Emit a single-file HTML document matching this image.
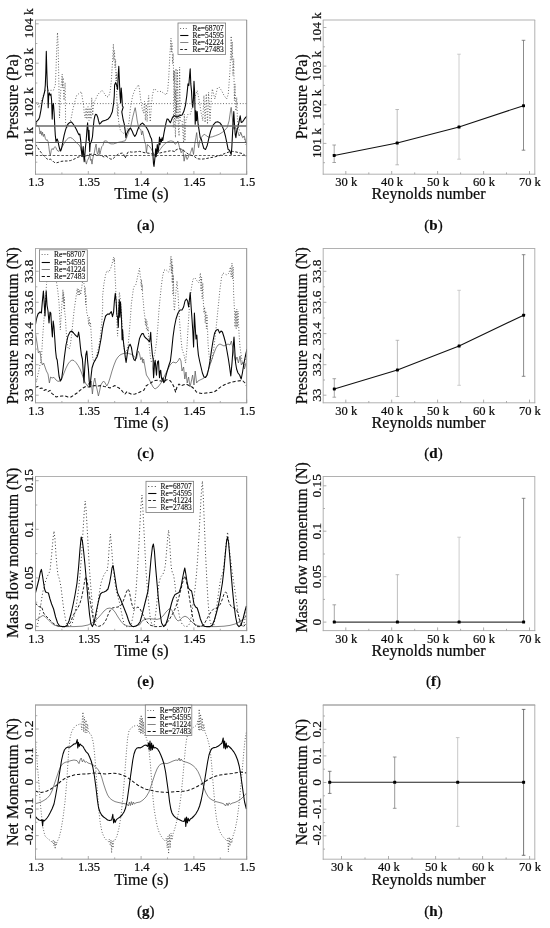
<!DOCTYPE html>
<html lang="en"><head><meta charset="utf-8"><title>Figure</title>
<style>html,body{margin:0;padding:0;background:#fff}svg{display:block}text{font-family:"Liberation Serif","Times New Roman",serif;fill:#0c0c0c;stroke:#0c0c0c;stroke-width:0.22px}.lg{stroke-width:0.1px}</style>
</head><body>
<svg width="550" height="928" viewBox="0 0 550 928">
<rect width="550" height="928" fill="#fff"/>
<defs>
<clipPath id="cl0"><rect x="35.5" y="20" width="211.2" height="154.2"/></clipPath>
<clipPath id="cl1"><rect x="35.5" y="248.5" width="211.2" height="154.3"/></clipPath>
<clipPath id="cl2"><rect x="35.5" y="476.5" width="211.2" height="154.1"/></clipPath>
<clipPath id="cl3"><rect x="35.5" y="705" width="211.2" height="154.2"/></clipPath>
</defs>
<g clip-path="url(#cl0)">
<path d="M35.5 102.8 37.1 102.8 39 107.8 41.5 100.3 45.3 90.3 50.3 90.3 53.4 90.3 55.3 85.2 56 70.2 56.6 51.4 57.5 32.5 58.1 45.1 58.5 63.9 59.1 95.3 59.5 117.9 60.3 97.8 61.4 82.7 62.2 74 62.6 87.8 63.1 77.7 63.6 95.3 64.1 100.3 64.6 90.3 65.1 82.7 65.4 100.3 65.6 124.1 66.9 127.9 69.1 124.1 71 119.1 72.9 109.1 74.8 101.6 76.7 95.3 79.2 93.4 81.4 91.5 82.3 97.8 83.6 105.3 84.2 112.8 85.2 117.9 86.1 107.8 86.9 119.1 88 106.6 89 120.4 90 107.8 91 119.1 91.7 97.8 92.7 115.4 93.7 101.6 95.5 100.3 96.7 96.5 99.2 92.8 102.4 90.3 102.2 90.5 104.4 93.5 106.5 97.1 108.7 96.4 110.2 91.3 111.3 81.1 112.4 63.6 113.4 44 113.8 60.7 114.5 50.5 115 68 115.6 59.3 116 81.1 116.4 72.4 116.9 101.5 117.5 116 118 104.4 118.6 121.8 120.4 130.5 123.3 133.5 126.9 130.5 129.1 121.8 130.5 107.3 132.7 95.6 134.9 89.8 137.1 86.9 138.5 84.7 139.6 89.8 140.7 100 142.2 108.7 143.6 113.1 144.5 101.5 145.4 120.4 146.3 104.4 147.1 121.8 148 101.5 148.7 95.6 149.5 113.1 150.3 121.8 151.2 107.3 152.4 95.6 153.8 89.1 156 89.8 158.2 92 161.1 91.3 164 93.5 166.2 94.9 167.6 91.3 168.7 78.2 169.8 56.4 171 38.2 171.4 52 172 43.3 172.6 63.6 173.2 53.5 173.7 81.1 174.3 70.9 174.9 101.5 175.5 89.8 176.1 113.1 176.7 101.5 173.3 127.6 174 70.4 174.9 124.2 175.5 137.6 176 68.7 176.9 120.8 177.5 70.4 178.4 127.6 179.1 136 179.6 67.1 180.4 120.8 182.1 120.8 183.6 142.7 184.3 114.1 184.9 141 185.8 120.8 188 114.1 190.5 114.1 193.8 100.7 197.2 90.6 198.9 99 201.4 114.1 202.8 120.8 203.9 95.6 205.1 122.5 206.3 93.9 207.5 124.2 208.6 92.3 210 120.8 211.2 100.7 212.3 88.9 214.9 99 217.4 88.1 219.1 87.2 221.6 90.6 224.1 95.6 226.6 99 228.3 93.9 230 70.4 231.2 36 231.7 60.3 232.3 41.8 233 75.5 233.7 58.7 234.4 100.7 235 83.9 235.9 110.8 236.7 97.3 237.5 120.8 238.4 127.6 240.9 134.3 244.3 137.6 245.9 144.4 247.6 147.7" fill="none" stroke="#4a4a4a" stroke-width="0.9" stroke-dasharray="0.9 1.9" stroke-linejoin="round"/>
<path d="M35.3 125.9 36.5 125.2 38.4 125.9 39.3 127.8 40 134 40.9 130.9 41.8 135.3 42.5 132.1 43.4 136.5 44.3 134 45.3 138.4 46.3 140.3 47.2 139.7 48.1 141.6 48.8 146.6 49.6 152.8 50.3 155.4 51.3 150.3 52.2 148.5 53.1 149.7 54.1 147.8 55.1 146.6 56 147.8 56.8 149.7 57.8 151 59.1 151.3 60.3 149.7 61.6 147.8 63.1 145.3 64.7 142.2 66.6 139.7 68.5 138 70.4 137.5 72.3 138.4 74.2 140.3 76 142.2 77.9 144.1 79.4 145.3 80.7 147.8 81.7 152.8 82.7 155.4 83.6 153.5 84.4 156.6 85.4 160.4 86.4 164.1 87.3 160.4 88.2 159.1 89.2 156.6 89.8 153.5 90.5 160.4 91.2 159.1 92 164.1 92.7 159.1 93.5 155.4 94.2 153.5 95.2 147.8 96.1 144.1 96.7 150.3 97.5 154.1 98.2 152.8 99 147.8 99.9 154.1 100.8 150.3 101.8 146.6 103 145.3 104.1 141.2 106.1 140.8 108.2 142.5 110.9 143.9 113.6 143.9 117.7 142.5 121.8 141.6 125.2 140.8 126.6 137.7 128.6 132.3 130.7 126.8 132.7 117.3 134.1 111.8 135.2 107.7 136.2 113.2 137.1 120 138.2 125.5 139.6 128.9 140.9 129.6 141.6 135 142.6 130.9 143.7 136.4 144.7 141.8 145.7 144.6 146.4 152.8 147.5 144.6 149.1 145.9 151.2 148.7 153.2 152.8 154.6 155.5 155.9 152.8 158.7 151.4 160.7 148.7 162.8 145.9 165.5 143.2 168.2 141.6 170.9 140.8 173.7 141.6 174 142.7 175.4 144.4 177.9 141 179.6 147.7 181.2 152.8 182.9 149.4 184.1 161.2 185.4 154.5 187.1 159.5 188.8 156.1 190.5 152.8 192.2 147.7 193.5 154.5 194.7 144.4 195.9 137.6 196.7 132.6 197.5 141 198.6 147.7 199.7 141 201.4 137.6 203.1 135.1 204.8 134.3 206.5 136 209 137.3 212.3 136.8 215.7 135.6 219.1 134.3 222.4 132.3 224.9 130.1 227.1 127.6 229.1 120.8 230.5 110.8 231.2 107.4 232 114.1 232.8 122.5 233.8 129.2 235.9 127.6 237.5 130.9 239.2 136 240.9 132.6 242.6 137.6 244.3 136 245.9 142.7 247.6 144.4" fill="none" stroke="#5a5a5a" stroke-width="0.75" stroke-linejoin="round"/>
<path d="M35.3 144.1 36.5 145.9 37.8 147.8 39 149.7 40.9 152.2 42.8 154.7 44.7 156.6 46.5 158.5 48.4 159.7 50.3 159.1 52.2 160.4 54.1 162.3 56 162.9 58.5 162.3 61 161.4 64.1 161 67.2 161 70.4 160.6 72.9 159.7 75.4 158.5 77.9 157.2 80.4 156.4 82.3 156 84.2 156.6 86.7 155.6 89.2 154.7 91.7 154.1 94.2 154.4 96.7 154.7 99.2 155.1 101.8 155.6 103 156.4 104.1 157.1 106.1 156.2 108.2 157.5 110.2 158.9 112.3 159.3 114.3 157.5 116.4 155.5 118.4 154.1 120.5 153.4 122.5 153 123.9 154.8 125.2 158.2 126.6 154.8 128 152.1 129.3 151.7 131.4 152.1 134.1 152.1 136.8 151.7 139.6 151.4 142.3 152.1 145 152.8 147.1 153 149.8 153.4 152.5 154.1 155.3 154.1 158 153.4 160.7 152.8 163.4 152.1 166.2 151.7 168.9 151.1 170.9 150.7 173 151.1 175 151.7 175.4 150.3 178.7 148.6 182.1 149.4 188.8 154.5 193.8 156.1 197.2 158.7 201.4 159.2 205.6 158.7 209.8 157.8 214 157 218.2 156.1 222.4 154.5 225.8 153.1 229.1 151.9 232.5 151.4 235.9 151.9 239.2 152.8 242.6 153.6 245.9 156.1 247.6 157" fill="none" stroke="#1a1a1a" stroke-width="0.95" stroke-dasharray="2.6 1.7" stroke-linejoin="round"/>
<path d="M35.3 126.6 36.5 121.6 38.4 119.7 39.6 117.2 40.9 110.3 42.2 101.6 43.4 96.5 44.7 91.5 45.3 85.2 45.8 72.7 46.3 51.4 46.8 70.2 47.3 85.2 47.8 90.3 48.2 107.8 48.7 95.3 49.3 92.8 50.1 95.3 50.9 94 51.6 100.3 52.2 119.1 52.8 105.3 53.4 103.4 54.1 112.8 54.7 124.1 54.7 125.2 55.3 135.3 56 141.6 56.6 140.3 57.2 139 58.1 141.6 58.8 145.3 59.7 149.1 60.6 151 61.4 149.1 62.2 145.3 63.1 140.3 64.1 135.3 65.4 130.3 66.9 125.9 68.5 123.4 70.4 122.1 71.6 122.1 73.1 124 74.8 126.5 76.4 129.6 77.9 132.8 78.9 134.7 79.8 134 80.7 140.3 81.4 150.3 82.1 156.6 82.7 150.3 83.2 146.6 83.7 155.4 84.2 161.6 84.8 155.4 85.4 147.8 86.2 140.3 86.9 130.3 87.6 122.7 88.1 130.3 88.6 140.3 89 130.3 89.3 137.8 89.7 151.6 90.2 144.1 91 142.2 91.7 140.3 92.5 136.5 93.2 127.8 94 120.2 94.9 115.8 95.7 114.2 96.7 114.8 97.7 117.1 98.6 120.9 99.5 124 100.5 123.4 101.8 121.7 103 120.9 104.1 120.7 106.1 120 108.2 118.9 110.2 116.6 112.3 111.8 113.6 103.6 114.3 95.5 114.6 85 115.6 82.6 116.6 85 117.6 89.4 118.2 75 118.8 66.4 119.4 81 120 95 120.6 103 121.2 88 121.8 95 122.4 106 123.2 107 121.8 111.8 123.2 120 124.3 124.1 125.2 130.9 125.9 137.7 126.6 133.7 128 130.9 129.3 128.9 130.7 128.2 132.1 130.9 133.4 134.3 134.8 136.4 136.2 134.3 137.5 130.2 138.9 126.8 140.9 124.1 142.6 123 144.3 124.8 146.4 127.5 148 130.2 149.4 133.7 150.5 137.1 151.6 139.1 152.3 144.6 152.9 154.1 153.5 163.7 154 166.4 154.6 160.9 155.3 154.1 155.7 148.7 156.2 156.8 156.8 150 157.3 144.6 158 152.8 158.7 147.3 159.5 137.1 160 144.6 160.7 139.1 161.4 141.8 162.1 137.7 162.8 140.5 163.4 136.4 164.1 132.3 165.2 126.8 166.2 122.1 167.1 118.9 168.2 119.3 169.3 121.1 170.3 122.7 171.2 120.7 172.3 118 173.7 115.9 174.5 115.8 177 117.1 179.6 115.8 182.1 115 183.8 111.6 185.4 105.7 186.8 95.6 188 83.9 188.8 85.5 189.6 75.5 190.2 68.7 190.8 83.9 191.5 90.6 192.2 104 192.8 107.4 193.5 97.3 194 81.3 194.7 93.9 195.2 124.2 195.9 110.8 196.5 120.8 197.2 111.6 198.1 124.2 198.9 129.2 200.2 137.6 201.4 139.3 202.6 144.4 203.9 148.6 205.6 149.4 207.3 145.2 209 137.6 210.7 130.9 213.2 125 215.7 122.2 217.7 121.7 219.9 122.9 222.1 125.9 223.8 130.1 225.4 136 226.8 142.7 228.1 149.4 229.5 150.3 230.5 152.8 231.2 154.5 231.8 147.7 232.5 134.3 233.3 119.2 233.8 111.6 234.5 124.2 235.2 134.3 235.9 137.6 236.7 130.9 237.9 127.6 239.2 120.8 240.2 115.8 241.2 122.5 242.6 121.7 244.3 119.2 245.9 117.1 247.6 115.8" fill="none" stroke="#050505" stroke-width="1.08" stroke-linejoin="round"/>
</g>
<path d="M35.5 103.6 246.7 103.6" fill="none" stroke="#4a4a4a" stroke-width="0.9" stroke-dasharray="0.9 1.9" stroke-linejoin="round"/>
<path d="M35.5 126 246.7 126" fill="none" stroke="#6a6a6a" stroke-width="1.5" stroke-linejoin="round"/>
<path d="M35.5 142.5 246.7 142.5" fill="none" stroke="#4a4a4a" stroke-width="0.9" stroke-linejoin="round"/>
<path d="M35.5 155.5 246.7 155.5" fill="none" stroke="#333" stroke-width="0.8" stroke-dasharray="2.6 1.7" stroke-linejoin="round"/>
<path d="M35 20H247.1" stroke="#a8a8a8" stroke-width="0.9" fill="none"/>
<path d="M246.7 20V174.6" stroke="#808080" stroke-width="0.9" fill="none"/>
<path d="M35 174.2H247.1" stroke="#909090" stroke-width="0.9" fill="none"/>
<path d="M35.5 20V174.6" stroke="#9c9c9c" stroke-width="0.9" fill="none"/>
<path d="M88.3 174.2v-3.2M141.1 174.2v-3.2M193.9 174.2v-3.2M35.5 174.2v-3.2M246.7 174.2v-3.2M61.9 174.2v-1.8M114.7 174.2v-1.8M167.5 174.2v-1.8M220.3 174.2v-1.8" stroke="#999" stroke-width="0.8" fill="none"/>
<text transform="translate(36.2 185.8) scale(0.945 1)" font-size="13.3" text-anchor="middle">1.3</text>
<text transform="translate(89 185.8) scale(0.945 1)" font-size="13.3" text-anchor="middle">1.35</text>
<text transform="translate(141.8 185.8) scale(0.945 1)" font-size="13.3" text-anchor="middle">1.4</text>
<text transform="translate(194.6 185.8) scale(0.945 1)" font-size="13.3" text-anchor="middle">1.45</text>
<text transform="translate(247.4 185.8) scale(0.945 1)" font-size="13.3" text-anchor="middle">1.5</text>
<text x="141.5" y="199" font-size="16.1" text-anchor="middle">Time (s)</text>
<path d="M35.5 23.8h3.2M35.5 63.2h3.2M35.5 102.8h3.2M35.5 142.4h3.2M35.5 43.5h1.8M35.5 83h1.8M35.5 122.6h1.8M35.5 162.2h1.8" stroke="#999" stroke-width="0.8" fill="none"/>
<text transform="translate(32.9 23.2) scale(0.945 1) rotate(-90)" font-size="13.3" text-anchor="middle">104 k</text>
<text transform="translate(32.9 62.8) scale(0.945 1) rotate(-90)" font-size="13.3" text-anchor="middle">103 k</text>
<text transform="translate(32.9 102.4) scale(0.945 1) rotate(-90)" font-size="13.3" text-anchor="middle">102 k</text>
<text transform="translate(32.9 142.1) scale(0.945 1) rotate(-90)" font-size="13.3" text-anchor="middle">101 k</text>
<text transform="translate(17.5 96.5) rotate(-90)" font-size="16.0" text-anchor="middle">Pressure (Pa)</text>
<rect x="178" y="23" width="47.6" height="31.4" fill="#fff" stroke="#7a7a7a" stroke-width="0.8"/>
<path d="M180.2 28.5 188.4 28.5" fill="none" stroke="#4a4a4a" stroke-width="0.9" stroke-dasharray="0.9 1.9" stroke-linejoin="round"/>
<text x="192.5" y="30.5" font-size="7.5" class="lg">Re=68707</text>
<path d="M180.2 35.5 188.4 35.5" fill="none" stroke="#050505" stroke-width="1.08" stroke-linejoin="round"/>
<text x="192.5" y="37.7" font-size="7.5" class="lg">Re=54595</text>
<path d="M180.2 42.5 188.4 42.5" fill="none" stroke="#5a5a5a" stroke-width="0.75" stroke-linejoin="round"/>
<text x="192.5" y="44.9" font-size="7.5" class="lg">Re=42224</text>
<path d="M180.2 49.5 188.4 49.5" fill="none" stroke="#1a1a1a" stroke-width="0.95" stroke-dasharray="2.6 1.7" stroke-linejoin="round"/>
<text x="192.5" y="52.1" font-size="7.5" class="lg">Re=27483</text>
<text x="145.7" y="229.8" font-size="15" text-anchor="middle" fill="#111">(<tspan font-weight="bold">a</tspan>)</text>
<path d="M322.8 20H535.2" stroke="#a8a8a8" stroke-width="0.9" fill="none"/>
<path d="M534.8 20V174.6" stroke="#a8a8a8" stroke-width="0.9" fill="none"/>
<path d="M322.8 174.2H535.2" stroke="#a8a8a8" stroke-width="0.9" fill="none"/>
<path d="M323.2 20V174.6" stroke="#a8a8a8" stroke-width="0.9" fill="none"/>
<path d="M345.8 174.2v-3.2M391.7 174.2v-3.2M437.6 174.2v-3.2M483.6 174.2v-3.2M529.5 174.2v-3.2M368.8 174.2v-1.8M414.7 174.2v-1.8M460.6 174.2v-1.8M506.5 174.2v-1.8" stroke="#999" stroke-width="0.8" fill="none"/>
<text transform="translate(346.2 185.8) scale(0.945 1)" font-size="13.3" text-anchor="middle">30 k</text>
<text transform="translate(392.1 185.8) scale(0.945 1)" font-size="13.3" text-anchor="middle">40 k</text>
<text transform="translate(438 185.8) scale(0.945 1)" font-size="13.3" text-anchor="middle">50 k</text>
<text transform="translate(484 185.8) scale(0.945 1)" font-size="13.3" text-anchor="middle">60 k</text>
<text transform="translate(529.9 185.8) scale(0.945 1)" font-size="13.3" text-anchor="middle">70 k</text>
<text x="428.6" y="199" font-size="16.1" text-anchor="middle">Reynolds number</text>
<path d="M323.2 27.5h3.2M323.2 66.1h3.2M323.2 104.8h3.2M323.2 143.4h3.2M323.2 46.8h1.8M323.2 85.4h1.8M323.2 124.1h1.8M323.2 162.7h1.8" stroke="#999" stroke-width="0.8" fill="none"/>
<text transform="translate(320.6 27.2) scale(0.945 1) rotate(-90)" font-size="13.3" text-anchor="middle">104 k</text>
<text transform="translate(320.6 65.8) scale(0.945 1) rotate(-90)" font-size="13.3" text-anchor="middle">103 k</text>
<text transform="translate(320.6 104.5) scale(0.945 1) rotate(-90)" font-size="13.3" text-anchor="middle">102 k</text>
<text transform="translate(320.6 143.1) scale(0.945 1) rotate(-90)" font-size="13.3" text-anchor="middle">101 k</text>
<text transform="translate(306.8 96.7) rotate(-90)" font-size="16.0" text-anchor="middle">Pressure (Pa)</text>
<path d="M334.2 145V162.5M332.4 145h3.6M332.4 162.5h3.6" stroke="#8a8a8a" stroke-width="0.75" fill="none"/>
<path d="M397.2 109.5V164.8M395.4 109.5h3.6M395.4 164.8h3.6" stroke="#a8a8a8" stroke-width="0.75" fill="none"/>
<path d="M459 54.2V159.2M457.2 54.2h3.6M457.2 159.2h3.6" stroke="#bdbdbd" stroke-width="0.75" fill="none"/>
<path d="M523.5 40.3V150.2M521.7 40.3h3.6M521.7 150.2h3.6" stroke="#666" stroke-width="0.75" fill="none"/>
<path d="M334.2 155.4 397.2 143.1 459 127 523.5 105.7" fill="none" stroke="#111" stroke-width="1.05" stroke-linejoin="round"/>
<rect x="332.7" y="153.9" width="3" height="3" rx="0.6" fill="#000"/>
<rect x="395.7" y="141.6" width="3" height="3" rx="0.6" fill="#000"/>
<rect x="457.5" y="125.5" width="3" height="3" rx="0.6" fill="#000"/>
<rect x="522" y="104.2" width="3" height="3" rx="0.6" fill="#000"/>
<text x="433.5" y="229.8" font-size="15" text-anchor="middle" fill="#111">(<tspan font-weight="bold">b</tspan>)</text>
<g clip-path="url(#cl1)">
<path d="M35.5 385 39 370 41.5 357.4 42.8 334.8 44.7 309.7 46.5 284.6 48.4 265.8 50.3 260.8 52.8 263.3 54.7 272.1 56.6 282.8 57.8 290.9 59.1 303.5 59.7 317.3 60.3 329.8 61 317.3 62.2 299.7 62.9 289.7 63.2 302.2 63.6 292.2 64 309.7 64.4 297.2 64.7 312.2 65.4 317.3 66 328.6 66.9 339.8 67.9 347.4 69.1 349.3 70.4 344.9 71.6 334.8 72.9 322.3 74.2 309.7 76 297.2 77.3 288.4 77.9 294.7 78.5 289 79.2 295.9 79.8 289.7 80.7 294.7 82.3 283.4 83.2 274.6 83.9 283.4 84.4 284.6 84.8 294.7 85.2 287.2 85.6 304.7 85.9 294.7 86.3 306 86.7 312.2 88 317.3 88.6 324.8 89.2 317.3 89.8 326 90.5 322.3 91.1 332.3 91.7 342.4 92.3 353.6 93 359.9 94.9 361.2 96.7 354.9 98.6 347.4 100.5 334.8 101.8 322.3 102.8 303.5 102.5 297.2 103.8 284.6 105.6 274.6 106.9 270.8 108.8 272.1 110.7 268.3 111.9 264.6 113.6 257 114.1 262.1 114.4 258.3 114.8 269.6 115.3 279.6 115.7 288.4 116.1 297.2 116.6 312.2 117.1 327.3 117.6 336.1 118.2 322.3 118.8 303.5 119.4 292.2 120.1 297.2 120.7 302.2 122 322.3 123.8 347.4 125.7 353.6 128.2 344.9 129.1 334.8 130.1 322.3 131.4 303.5 132.6 294.7 133.6 287.2 135.8 284.6 137 279.6 138.3 273.3 139.5 268.3 140.2 275.9 140.8 278.4 141.2 285.9 141.5 279.6 141.9 290.9 142.3 284.6 142.7 297.2 143.3 301 143.9 309.7 144.9 317.3 145.4 324.8 145.9 318.5 146.4 328.6 146.9 321 147.4 331.1 148.2 327.3 148.9 342.4 150.2 354.9 151.4 362.4 153.3 359.9 155.2 351.1 156.5 342.4 157.7 328.6 159 309.7 160.2 297.2 161.5 284.6 162.7 275.9 164 270.2 165.9 269.6 168.4 272.1 169.6 271 171 256 171.4 273 171.8 259 172.2 283 172.6 265 173 295 173.4 275 173.8 303 174.4 311 175.6 295 177 281 178 293 179 313 180 327 181 339 182 349 184 355 185.6 363 187 347 188 329 189 313 190 299 191.6 287 193 279 195 278 197 281 199 283 200.4 273 201 291 201.6 277 202.2 299 202.8 283 203.4 303 204 313 204.6 307 205.2 323 205.8 311 206.4 329 207 315 207.6 331 208 343 209 355 210.4 363 212 359 214 347 216 329 218 309 220 289 221.6 277 223 273 225 274 227 275 229 273 230.4 267 231.2 277 232 263 232.6 279 233.2 267 233.6 293 234.4 309 235 327 235.6 311 236.2 329 236.8 309 237.4 327 238 311 239 333 240 347 242 361 244 367 246 355" fill="none" stroke="#4a4a4a" stroke-width="0.9" stroke-dasharray="0.9 1.9" stroke-linejoin="round"/>
<path d="M35.4 333 37 343 38.4 353 40 351 41.2 361 42.4 365 43.6 363 45 367 46.4 371 48 374 49.4 383 50.6 377 52 378 54 377.4 56 380 58 381.4 60 381 62 378 64 373 66 368 68 364 70 361.4 72 360 74 360.6 76 362.6 78 365.4 80 369 81.6 373 83 377 84.4 381 86 384 87.6 386 89 383 90 387 91.2 381 92.4 394 93.6 383 94.8 378 96 385 97.2 390 98.4 396 99.6 391 100.8 385 102 383 103.6 381 105.2 383 106.8 386 108.4 383 110 378 112 371 114 365 116 360 118 357 120 355 122 354 124 353.4 126 353 128.4 353.4 128.9 353.6 131.4 354.3 133.9 356.2 136.4 358.7 138.3 351.1 139.5 353.6 140.8 359.9 142 357.4 143.3 363.1 142 361 143.6 359 145 367 146.4 375 149 379 151 383 153 387 155 389 158 387 161 383 164 377 167 371 170 365 173 362 176 363 178 361 179.6 358 181 361 182 371 183.6 367 184.8 379 186 372 187.2 383 188.6 377 190 387 191.4 381 192.6 375 194 385 195.2 371 196.6 383 198 381 200 380 203 378.6 206 376.6 208 371 210 365 212 359 214 353 216 348 218 345 220 344 222 345 224 346 226 345 228 344 230 345 231.4 341 232.6 347 234 355 235.4 361 237 357 238.4 363 240 356 241.4 365 243 362 244.4 369 246 363" fill="none" stroke="#5a5a5a" stroke-width="0.75" stroke-linejoin="round"/>
<path d="M35.4 387.2 38 386.4 40 388.4 42 388 44 390.4 46 389.6 48 391.6 50 390.4 52 393.6 54 395 56 397 59 396.4 62 396 65 396 68 397 71 397 74 395 77 393 80 390.4 83 388 86 386.4 89 387 92 386 95 385.6 98 386 101 385.6 104 386.4 107 387 110 388 113 386.4 115 385.6 117 387 119 388 121 389.6 123 392 125 394 127 391.6 129 393 132 394.4 135 394 138 393 141 391.6 144 390 146 386 149 384 152 382 155 380.6 158 380.2 161 381 164 381.4 167 379.6 170 380.6 172 383 174 387 175.6 392 177 387 179 384 181 386 183 385 186 384 189 385.4 192 387 194.4 389 196.4 392 199 393 202 393.4 206 393 210 392.6 214 392 217 390 220 387.4 223 385.4 226 384 229 383 232 382 235 381.4 238 381 241 380.6 243 381 245 383 246 385.4" fill="none" stroke="#111" stroke-width="1.05" stroke-dasharray="3.2 2.0" stroke-linejoin="round"/>
<path d="M35.4 325 36.4 319 38 314 40 312 41.4 313 42.4 301 43.4 291 44.2 303 45 316 45.6 303 46.2 291 47 305 48 311 49 323 50 312 50.8 313 51.6 327 52.4 337 53.2 321 54 327 54.8 339 55.6 351 56.4 358 57.2 360 58 367 59 376 60.4 381 61.6 379 63 369 64.4 357 66 345 68 336 70 332 71.6 331 73.6 333 75.6 335.4 77.6 337 78.6 332 79.4 337 80.4 347 81.4 355 82.4 359 83.2 371 84 383 84.8 367 85.8 355 86.8 351 87.6 361 88.4 369 89.2 381 90 387 91 377 92 368 93.6 363 95.2 360 97 357 98.6 352 101.3 337.3 102.5 328.6 103.8 322.3 105.6 316 107.5 314.1 109.4 314.1 111.3 311.6 112.5 316.6 113.6 312.2 114.4 301 115.3 293.4 116.1 301 116.9 314.8 117.6 317.3 118.3 327.3 118.8 309.7 119.3 299.7 119.8 317.3 120.5 302.2 121.1 312.2 121.6 322.3 122.1 339.8 122.6 329.8 123.2 339.8 123.8 344.9 124.6 351.1 125.3 357.4 126.1 362.4 127 356.2 127.9 349.9 128.9 346.1 130.1 344.2 131.4 347.4 132.4 353.6 133.2 357.4 134.1 359.9 135.1 360.6 136.1 357.4 137.1 351.1 138.3 344.9 139.5 338.6 140.8 335.5 142 333.6 143.3 333.6 144.5 336.7 145.8 338 147.1 339.2 148.3 340.5 149.6 341.7 150.2 337.3 150.7 332.3 151.2 342.4 151.7 347.4 152.4 354.9 153.3 359.9 153.1 367.8 153.6 377.8 154.1 370.3 154.6 362.8 155.2 360.3 155.8 367.8 156.5 375.3 157.1 365.3 157.7 361.5 158.5 360.9 159 370.3 159.5 377.8 160 371.6 160.7 370.3 161.5 377.8 162.2 380.3 163 377.8 163.7 382.8 164.6 381.6 165.5 377.8 165.6 377 167.2 371 169 365 170.4 361 171.6 351 173 337 174.4 327 176 319 178 313 180 310 182 310 183.6 307 185 301 186.4 299 187.6 301 188.6 307 189.4 300 190.2 292.6 191 305 192 319 192.8 331 193.6 347 194.4 313 195.2 327 196 339 196.8 335 197.6 347 198.4 355 199.6 361 201 367 202.4 373 204 377 205.6 377.4 207.2 375 208.6 369 210 361 211.4 351 213 341 214.6 333 216.4 330 218 329.4 219.6 333 221 331 222.4 332 224 337 225.6 343 227 351 228.4 359 229.6 367 230.8 376 232 363 233 349 234 337 234.8 351 235.6 363 236.6 369 238 373 239.6 375 241.2 379 242.4 373 244 363 245.6 355 247 349" fill="none" stroke="#050505" stroke-width="1.08" stroke-linejoin="round"/>
</g>
<path d="M35 248.5H247.1" stroke="#a8a8a8" stroke-width="0.9" fill="none"/>
<path d="M246.7 248.5V403.2" stroke="#808080" stroke-width="0.9" fill="none"/>
<path d="M35 402.8H247.1" stroke="#909090" stroke-width="0.9" fill="none"/>
<path d="M35.5 248.5V403.2" stroke="#9c9c9c" stroke-width="0.9" fill="none"/>
<path d="M88.3 402.8v-3.2M141.1 402.8v-3.2M193.9 402.8v-3.2M35.5 402.8v-3.2M246.7 402.8v-3.2M61.9 402.8v-1.8M114.7 402.8v-1.8M167.5 402.8v-1.8M220.3 402.8v-1.8" stroke="#999" stroke-width="0.8" fill="none"/>
<text transform="translate(36.2 414.9) scale(0.945 1)" font-size="13.3" text-anchor="middle">1.3</text>
<text transform="translate(89 414.9) scale(0.945 1)" font-size="13.3" text-anchor="middle">1.35</text>
<text transform="translate(141.8 414.9) scale(0.945 1)" font-size="13.3" text-anchor="middle">1.4</text>
<text transform="translate(194.6 414.9) scale(0.945 1)" font-size="13.3" text-anchor="middle">1.45</text>
<text transform="translate(247.4 414.9) scale(0.945 1)" font-size="13.3" text-anchor="middle">1.5</text>
<text x="141.5" y="428.1" font-size="16.1" text-anchor="middle">Time (s)</text>
<path d="M35.5 271.3h3.2M35.5 302.3h3.2M35.5 333.6h3.2M35.5 364.7h3.2M35.5 395.2h3.2M35.5 286.8h1.8M35.5 318h1.8M35.5 349.1h1.8M35.5 380h1.8" stroke="#999" stroke-width="0.8" fill="none"/>
<text transform="translate(32.9 271.3) scale(0.945 1) rotate(-90)" font-size="13.3" text-anchor="middle">33.8</text>
<text transform="translate(32.9 302.3) scale(0.945 1) rotate(-90)" font-size="13.3" text-anchor="middle">33.6</text>
<text transform="translate(32.9 333.6) scale(0.945 1) rotate(-90)" font-size="13.3" text-anchor="middle">33.4</text>
<text transform="translate(32.9 364.7) scale(0.945 1) rotate(-90)" font-size="13.3" text-anchor="middle">33.2</text>
<text transform="translate(32.9 395.2) scale(0.945 1) rotate(-90)" font-size="13.3" text-anchor="middle">33</text>
<text transform="translate(17.7 325.7) rotate(-90)" font-size="16.0" text-anchor="middle">Pressure momentum (N)</text>
<rect x="39.5" y="249.8" width="47.8" height="31.6" fill="#fff" stroke="#7a7a7a" stroke-width="0.8"/>
<path d="M41.7 254.5 49.9 254.5" fill="none" stroke="#4a4a4a" stroke-width="0.9" stroke-dasharray="0.9 1.9" stroke-linejoin="round"/>
<text x="54" y="257.3" font-size="7.5" class="lg">Re=68707</text>
<path d="M41.7 262.5 49.9 262.5" fill="none" stroke="#050505" stroke-width="1.08" stroke-linejoin="round"/>
<text x="54" y="264.5" font-size="7.5" class="lg">Re=54595</text>
<path d="M41.7 269.5 49.9 269.5" fill="none" stroke="#5a5a5a" stroke-width="0.75" stroke-linejoin="round"/>
<text x="54" y="271.7" font-size="7.5" class="lg">Re=41224</text>
<path d="M41.7 276.5 49.9 276.5" fill="none" stroke="#111" stroke-width="1.05" stroke-dasharray="3.2 2.0" stroke-linejoin="round"/>
<text x="54" y="278.9" font-size="7.5" class="lg">Re=27483</text>
<text x="145.7" y="458.2" font-size="15" text-anchor="middle" fill="#111">(<tspan font-weight="bold">c</tspan>)</text>
<path d="M322.8 248.5H535.2" stroke="#a8a8a8" stroke-width="0.9" fill="none"/>
<path d="M534.8 248.5V403.2" stroke="#a8a8a8" stroke-width="0.9" fill="none"/>
<path d="M322.8 402.8H535.2" stroke="#a8a8a8" stroke-width="0.9" fill="none"/>
<path d="M323.2 248.5V403.2" stroke="#a8a8a8" stroke-width="0.9" fill="none"/>
<path d="M345.8 402.8v-3.2M391.7 402.8v-3.2M437.6 402.8v-3.2M483.6 402.8v-3.2M529.5 402.8v-3.2M368.8 402.8v-1.8M414.7 402.8v-1.8M460.6 402.8v-1.8M506.5 402.8v-1.8" stroke="#999" stroke-width="0.8" fill="none"/>
<text transform="translate(346.2 414.9) scale(0.945 1)" font-size="13.3" text-anchor="middle">30 k</text>
<text transform="translate(392.1 414.9) scale(0.945 1)" font-size="13.3" text-anchor="middle">40 k</text>
<text transform="translate(438 414.9) scale(0.945 1)" font-size="13.3" text-anchor="middle">50 k</text>
<text transform="translate(484 414.9) scale(0.945 1)" font-size="13.3" text-anchor="middle">60 k</text>
<text transform="translate(529.9 414.9) scale(0.945 1)" font-size="13.3" text-anchor="middle">70 k</text>
<text x="428.6" y="428.1" font-size="16.1" text-anchor="middle">Reynolds number</text>
<path d="M323.2 271.3h3.2M323.2 302.3h3.2M323.2 333.6h3.2M323.2 364.7h3.2M323.2 395.2h3.2M323.2 286.8h1.8M323.2 318h1.8M323.2 349.1h1.8M323.2 380h1.8" stroke="#999" stroke-width="0.8" fill="none"/>
<text transform="translate(320.6 271.3) scale(0.945 1) rotate(-90)" font-size="13.3" text-anchor="middle">33.8</text>
<text transform="translate(320.6 302.3) scale(0.945 1) rotate(-90)" font-size="13.3" text-anchor="middle">33.6</text>
<text transform="translate(320.6 333.6) scale(0.945 1) rotate(-90)" font-size="13.3" text-anchor="middle">33.4</text>
<text transform="translate(320.6 364.7) scale(0.945 1) rotate(-90)" font-size="13.3" text-anchor="middle">33.2</text>
<text transform="translate(320.6 395.2) scale(0.945 1) rotate(-90)" font-size="13.3" text-anchor="middle">33</text>
<text transform="translate(306.8 325.7) rotate(-90)" font-size="16.0" text-anchor="middle">Pressure momentum (N)</text>
<path d="M334.3 378.7V397.2M332.5 378.7h3.6M332.5 397.2h3.6" stroke="#8a8a8a" stroke-width="0.75" fill="none"/>
<path d="M397.4 340.3V396.5M395.6 340.3h3.6M395.6 396.5h3.6" stroke="#a8a8a8" stroke-width="0.75" fill="none"/>
<path d="M459.1 290.3V385.3M457.3 290.3h3.6M457.3 385.3h3.6" stroke="#bdbdbd" stroke-width="0.75" fill="none"/>
<path d="M523.6 254.7V376.3M521.8 254.7h3.6M521.8 376.3h3.6" stroke="#666" stroke-width="0.75" fill="none"/>
<path d="M334.3 388.9 397.4 369.9 459.1 346 523.6 315.2" fill="none" stroke="#111" stroke-width="1.05" stroke-linejoin="round"/>
<rect x="332.8" y="387.4" width="3" height="3" rx="0.6" fill="#000"/>
<rect x="395.9" y="368.4" width="3" height="3" rx="0.6" fill="#000"/>
<rect x="457.6" y="344.5" width="3" height="3" rx="0.6" fill="#000"/>
<rect x="522.1" y="313.7" width="3" height="3" rx="0.6" fill="#000"/>
<text x="433.5" y="458.2" font-size="15" text-anchor="middle" fill="#111">(<tspan font-weight="bold">d</tspan>)</text>
<g clip-path="url(#cl2)">
<path d="M35.4 626.6 38 623 40 611 41.6 599 43 591 45 583 47 577 49 573 50 571 51.6 555 53 539 54 531 55 539 56 555 57 567 58 575 59.4 579 61 587 62.4 599 64 611 65.6 620 67.6 626 70 626.6 72.4 623 74.4 615 76.4 605 78.4 591 80 575 81.6 555 82.8 535 84 515 85.2 501 86.2 511 87.2 529 88.4 551 89.6 571 90.8 587 92 601 93.2 615 94.4 625 95.6 623 97 611 99 595 101 583 103 577 105 573 107 571 108 565 109.2 547 110.4 534 111.4 545 112.4 559 113.6 571 115 583 116.4 591 118 597 119.6 603 121.2 611 122.8 619 124.4 625 126 626.6 130 626.6 132 621 134 611 136 591 137.6 567 139 543 140 523 141 505 142 495 143 511 144 531 145 551 146 571 147.6 591 149 607 150.4 619 152 625 154 626.6 156 611 157.6 595 159 583 160.6 577 162.4 575 164 572 165.4 565 166.6 551 167.6 539 168.6 530 169.6 541 170.4 555 171.2 567 172.4 573 173.6 575 174.8 583 176 595 177.6 607 179.6 617 182 624 185 626.6 188 626.2 190 623 191.6 615 193.2 603 194.8 591 196.4 575 197.6 559 198.8 539 200 517 201.2 495 202.4 481 203.2 495 204 515 204.8 535 205.6 555 206.4 571 207.2 587 208 601 209 613 210 621 211.6 626 213.6 626.6 215.6 615 217.2 603 218.8 591 220 583 221.2 577 222.8 573 224 565 225.2 553 226.4 541 227.6 532 228.6 541 229.6 551 230.8 561 232 571 233.2 579 234.4 587 235.6 595 237 605 238.4 615 240 623 241.6 626.6 243.6 625 245 619 246.4 611" fill="none" stroke="#3a3a3a" stroke-width="1.0" stroke-dasharray="1.0 2.3" stroke-linejoin="round"/>
<path d="M35.4 620 37 619.4 39 618 41 616.6 43 615.4 45 616.6 47 618.6 49 620.6 51 622.6 54 625 58 626.2 64 626.6 74 626.6 82 626.2 88 625 92 623 95 621 98 618 101 614.6 104 611 107 608.6 110 608 112.4 609 115 612 118 617 121 621.4 124 624.6 128 626.2 134 626.6 140 624.6 142 621 145 619.4 149 618.6 153 619 157 619.4 160 618.6 163 616 166 612 169 609 170.4 608.6 172 610.6 174 615 176 619 178 621 180 620 182.4 617.4 185 616.2 187.6 617.4 190 620 193 623 196 625 200 626.2 206 626.6 216 626.6 224 626.2 230 625.4 235 624 239 622 242 620 244.4 618 246.4 616" fill="none" stroke="#5a5a5a" stroke-width="0.75" stroke-linejoin="round"/>
<path d="M35.4 603 37 605 39 607 41 606 42.4 609 43.6 613 45 615 47 617 49 619 51 621 53 623 55 624.6 58 626 62 626.6 67.8 625.8 70.4 622.6 72.8 616.4 75.4 611.4 78 607.6 79.8 603.8 81.6 597.6 83.6 587.6 84.8 580 85.8 576.8 86.6 578.8 88 586.2 89.2 593.8 90.4 602.6 91.8 610.2 93 617.6 94.2 622.6 96.2 625.8 97 626.6 100 626 103 624.6 106 620 108.4 614 110.4 610 112.4 608 115 607.4 118 607 120.4 606 122.4 603 124.4 598 126.4 592 128 589 129.2 591 130.4 597 131.6 603 133 608 134.4 609 136 608 138 607 140 608.6 142 613 144 617 147 622 150 625 154 626.6 159 626.6 163 626.2 166 624 169 620 172 615 175 609 177.6 602 180 593 182 585 183.6 579 185 576 186.4 581 188 589 189.6 599 191.2 609 192.8 618 194.4 624 196.4 626.6 200 626.6 203.6 625 206.4 620 209 615 211.6 611 214 608.6 216.4 608 218.4 607 220.4 604 222.4 599 224 594 225.6 592 226.8 593 228 599 229.6 604 231.6 607 234 608 236.4 609 238.4 615 240 621 241.6 625.4 243.6 626.6 246.4 623" fill="none" stroke="#1c1c1c" stroke-width="0.95" stroke-dasharray="2.9 1.8" stroke-linejoin="round"/>
<path d="M35.4 593 37 587 39 579 40.4 572 41.4 569.4 42.4 575 43.6 583 44.6 589 45.6 592 47 592.6 48.4 593 50 599 51.6 604 53.6 609 55.6 617 57.6 623 59.6 626 62 626.6 65 626.6 67 625.4 69 621 71 614 73 605 75 595 77 583 78.6 567 80 549 81.2 537 82.4 541 83.6 551 85 565 86.4 581 88 599 89.6 615 91 624 92.4 626.6 94 623 95.6 615 97.2 607 99 599 100.4 594 102 592.6 104 592 106 591 108 589 109.6 583 111 575 112 568 113 565.4 114 571 115.2 579 116.4 587 117.6 593 119 596 120.4 599 122 603 123.6 607 125.2 611 126.8 615 128.4 620 130 624 132 626.2 134 626.6 136 626 138 624.6 140 622 142 615 144 607 146 599 148 591 149.6 575 151 559 152.4 547 153.4 544 154.4 551 155.6 567 157 583 158.4 599 160 613 161.6 623 163.6 626.6 165.6 625 167.6 619 169.6 611 171.6 603 173.2 598 175 594.6 177 593.4 179 592.6 181 587 182.4 579 183.6 573 184.8 568 186 575 187.2 583 188.4 588 190 590 191.6 591 192.8 597 194 604 195.6 607 197.2 608 198.8 613 200.4 619 202.4 624 204.4 626.2 207 626.6 210 626.6 212.4 625 214.4 620 216.4 613 218.4 605 220.4 595 222.4 583 224 569 225.4 553 226.6 541 227.6 537 228.6 543 229.8 557 231.2 575 232.6 591 234 605 235.6 617 237.2 624.6 239 626.6 241 625 243 619 245 611 246.4 606" fill="none" stroke="#050505" stroke-width="1.08" stroke-linejoin="round"/>
</g>
<path d="M35 476.5H247.1" stroke="#a8a8a8" stroke-width="0.9" fill="none"/>
<path d="M246.7 476.5V631.1" stroke="#808080" stroke-width="0.9" fill="none"/>
<path d="M35 630.6H247.1" stroke="#909090" stroke-width="0.9" fill="none"/>
<path d="M35.5 476.5V631.1" stroke="#9c9c9c" stroke-width="0.9" fill="none"/>
<path d="M88.3 630.6v-3.2M141.1 630.6v-3.2M193.9 630.6v-3.2M35.5 630.6v-3.2M246.7 630.6v-3.2M61.9 630.6v-1.8M114.7 630.6v-1.8M167.5 630.6v-1.8M220.3 630.6v-1.8" stroke="#999" stroke-width="0.8" fill="none"/>
<text transform="translate(36.2 642.5) scale(0.945 1)" font-size="13.3" text-anchor="middle">1.3</text>
<text transform="translate(89 642.5) scale(0.945 1)" font-size="13.3" text-anchor="middle">1.35</text>
<text transform="translate(141.8 642.5) scale(0.945 1)" font-size="13.3" text-anchor="middle">1.4</text>
<text transform="translate(194.6 642.5) scale(0.945 1)" font-size="13.3" text-anchor="middle">1.45</text>
<text transform="translate(247.4 642.5) scale(0.945 1)" font-size="13.3" text-anchor="middle">1.5</text>
<text x="141.5" y="655.7" font-size="16.1" text-anchor="middle">Time (s)</text>
<path d="M35.5 480.7h3.2M35.5 529.3h3.2M35.5 577.9h3.2M35.5 626.5h3.2M35.5 505h1.8M35.5 553.6h1.8M35.5 602.2h1.8" stroke="#999" stroke-width="0.8" fill="none"/>
<text transform="translate(32.9 480.7) scale(0.945 1) rotate(-90)" font-size="13.3" text-anchor="middle">0.15</text>
<text transform="translate(32.9 529.3) scale(0.945 1) rotate(-90)" font-size="13.3" text-anchor="middle">0.1</text>
<text transform="translate(32.9 577.9) scale(0.945 1) rotate(-90)" font-size="13.3" text-anchor="middle">0.05</text>
<text transform="translate(32.9 626.5) scale(0.945 1) rotate(-90)" font-size="13.3" text-anchor="middle">0</text>
<text transform="translate(17.5 552.8) rotate(-90)" font-size="16.0" text-anchor="middle">Mass flow momentum (N)</text>
<rect x="146" y="481.3" width="47.6" height="31.1" fill="#fff" stroke="#7a7a7a" stroke-width="0.8"/>
<path d="M148.2 486.5 156.4 486.5" fill="none" stroke="#3a3a3a" stroke-width="1.0" stroke-dasharray="1.0 2.3" stroke-linejoin="round"/>
<text x="160.5" y="488.8" font-size="7.5" class="lg">Re=68707</text>
<path d="M148.2 493.5 156.4 493.5" fill="none" stroke="#050505" stroke-width="1.08" stroke-linejoin="round"/>
<text x="160.5" y="496" font-size="7.5" class="lg">Re=54595</text>
<path d="M148.2 500.5 156.4 500.5" fill="none" stroke="#1c1c1c" stroke-width="0.95" stroke-dasharray="2.9 1.8" stroke-linejoin="round"/>
<text x="160.5" y="503.2" font-size="7.5" class="lg">Re=41224</text>
<path d="M148.2 507.5 156.4 507.5" fill="none" stroke="#5a5a5a" stroke-width="0.75" stroke-linejoin="round"/>
<text x="160.5" y="510.4" font-size="7.5" class="lg">Re=27483</text>
<text x="145.7" y="686.1" font-size="15" text-anchor="middle" fill="#111">(<tspan font-weight="bold">e</tspan>)</text>
<path d="M322.8 476.5H535.2" stroke="#a8a8a8" stroke-width="0.9" fill="none"/>
<path d="M534.8 476.5V631.1" stroke="#a8a8a8" stroke-width="0.9" fill="none"/>
<path d="M322.8 630.6H535.2" stroke="#a8a8a8" stroke-width="0.9" fill="none"/>
<path d="M323.2 476.5V631.1" stroke="#a8a8a8" stroke-width="0.9" fill="none"/>
<path d="M345.8 630.6v-3.2M391.7 630.6v-3.2M437.6 630.6v-3.2M483.6 630.6v-3.2M529.5 630.6v-3.2M368.8 630.6v-1.8M414.7 630.6v-1.8M460.6 630.6v-1.8M506.5 630.6v-1.8" stroke="#999" stroke-width="0.8" fill="none"/>
<text transform="translate(346.2 642.5) scale(0.945 1)" font-size="13.3" text-anchor="middle">30 k</text>
<text transform="translate(392.1 642.5) scale(0.945 1)" font-size="13.3" text-anchor="middle">40 k</text>
<text transform="translate(438 642.5) scale(0.945 1)" font-size="13.3" text-anchor="middle">50 k</text>
<text transform="translate(484 642.5) scale(0.945 1)" font-size="13.3" text-anchor="middle">60 k</text>
<text transform="translate(529.9 642.5) scale(0.945 1)" font-size="13.3" text-anchor="middle">70 k</text>
<text x="428.6" y="655.7" font-size="16.1" text-anchor="middle">Reynolds number</text>
<path d="M323.2 485.8h3.2M323.2 531.2h3.2M323.2 576.7h3.2M323.2 622.1h3.2M323.2 508.5h1.8M323.2 554h1.8M323.2 599.4h1.8" stroke="#999" stroke-width="0.8" fill="none"/>
<text transform="translate(320.6 485.8) scale(0.945 1) rotate(-90)" font-size="13.3" text-anchor="middle">0.15</text>
<text transform="translate(320.6 531.2) scale(0.945 1) rotate(-90)" font-size="13.3" text-anchor="middle">0.1</text>
<text transform="translate(320.6 576.7) scale(0.945 1) rotate(-90)" font-size="13.3" text-anchor="middle">0.05</text>
<text transform="translate(320.6 622.1) scale(0.945 1) rotate(-90)" font-size="13.3" text-anchor="middle">0</text>
<text transform="translate(306.8 547.3) rotate(-90)" font-size="16.0" text-anchor="middle">Mass flow momentum (N)</text>
<path d="M334.3 604.8V622.1M332.5 604.8h3.6" stroke="#8a8a8a" stroke-width="0.75" fill="none"/>
<path d="M397.4 574.7V622.1M395.6 574.7h3.6" stroke="#a8a8a8" stroke-width="0.75" fill="none"/>
<path d="M459.1 537.2V622.1M457.3 537.2h3.6" stroke="#bdbdbd" stroke-width="0.75" fill="none"/>
<path d="M523.6 498.3V622.1M521.8 498.3h3.6" stroke="#666" stroke-width="0.75" fill="none"/>
<path d="M334.3 622.1 397.4 622.1 459.1 622.1 523.6 622.1" fill="none" stroke="#3a3a3a" stroke-width="1.4" stroke-linejoin="round"/>
<rect x="332.8" y="620.6" width="3" height="3" rx="0.6" fill="#000"/>
<rect x="395.9" y="620.6" width="3" height="3" rx="0.6" fill="#000"/>
<rect x="457.6" y="620.6" width="3" height="3" rx="0.6" fill="#000"/>
<rect x="522.1" y="620.6" width="3" height="3" rx="0.6" fill="#000"/>
<text x="433.5" y="686.1" font-size="15" text-anchor="middle" fill="#111">(<tspan font-weight="bold">f</tspan>)</text>
<g clip-path="url(#cl3)">
<path d="M35.4 741 36.4 752 37.6 768 39 784 40.4 804 41.6 816 43 828 45 836 48 839 51 841 52.4 843 53.2 840 54 846 54.6 841 55.2 849 55.8 842 56.4 845 57 842 59 838 61 830 63 818 65 802 66.4 786 67.6 768 68.8 750 70 738 71.6 732 73.6 728 76 725.6 79 724.4 81 723.6 81.8 730 82.4 718 83 712 83.6 732 84.4 717 85.2 733 86 720 86.8 733 87.6 724 88.4 733 90 733 91.6 736 93.2 742 94.4 752 95.6 766 96.8 784 98 800 99.2 814 100.4 824 102 832 104 837 106.4 840 108.4 841.6 109.4 839 110.2 845 111 840 111.6 853 112.2 841 113 848 113.8 840 115 840 117 836 119 828 121 816 122.6 800 124 784 125.2 768 126.4 752 127.6 738 129 731 131 728 134 726 137 725.6 138.4 725 139.2 732 140 718 140.6 734 141.2 715 141.8 733 142.4 718 143 734 143.6 722 144.4 735 146 737 147.6 742 149 750 150.4 764 151.6 780 152.8 796 154 808 155.6 818 157.2 826 159 832 161 836 163 839 165 841 166.4 838 167.2 848 168 836 168.6 854 169.4 834 170.2 848 171 833 172 840 173 834 175 828 177 820 179 810 181 796 182.6 780 184 764 185.4 748 186.6 739 188 733 191 729 194 727 197 725 198 720 198.6 730 199.2 709 199.8 731 200.6 714 201.4 730 202.2 718 203 731 203.8 724 205 732 207 737 209 744 210.4 752 211.6 764 212.8 780 214 794 215.2 808 216.4 818 218 826 220 832 222.4 836 225 839 227 841 227.8 838 228.4 852 229.2 837 230 846 230.8 838 231.8 843 233 836 235 830 237 820 238.6 808 240 794 241.4 780 242.6 766 243.8 752 245 740 246.4 732" fill="none" stroke="#4a4a4a" stroke-width="0.9" stroke-dasharray="0.9 1.9" stroke-linejoin="round"/>
<path d="M35.4 803.6 38 803 41 802 44 800.4 47 798.4 50 795 52.4 790 54.4 784 56.4 778 58.4 772 60.4 767 62.4 764 65 762.4 68 761.6 71 760.6 74 760 77 760.6 79 763.6 80 760 81.2 758 82.4 762 83.6 759.6 85 762.4 86.4 761.6 88 763 90 763.6 92.4 764.4 95 766.4 97.6 769 99.6 772 101.6 777 103.6 784 105.6 790 107.6 795 109.6 798 112 800 115 801.6 118 802.4 121 803 124 803.6 127 804 128.4 806 129.4 802 130.4 805.6 131.4 801.6 132.4 805 133.4 802 134.4 804 136 802.8 138 802.4 140 802 143 800 146 797 149 792 151 786 153 780 155 774 157 769 159 765.6 161 764 164 763.2 167 763.6 170 762.4 173 761 176 760 178 760.4 179.2 758 180 761 181.2 759 182.4 761 184 761.6 187 762.4 190 763.6 193 765.6 195.6 768 198 771.6 200 776 202 782 204 788 206 793 208 796.4 210.4 799 213 800.4 216 801.6 219 802.4 222 803.2 224 804 225.6 806 226.8 803 228 805.6 229.2 802.8 230.4 804.4 232 803.2 235 802.4 238 801 241 799 244 796 246.4 793.2" fill="none" stroke="#5a5a5a" stroke-width="0.75" stroke-linejoin="round"/>
<path d="M35.4 791 38 792 41 792.4 44 792 47 791 50 789.6 53 787.6 56 785.6 59 783 62 780.4 65 778.4 68 777 71 776 74 775 78 774.4 82 774 86 774 90 773.6 94 773 98 773.2 102 773.6 106 774 110 773.6 114 773.2 118 773.6 122 774.8 126 776.6 130 779.2 134 782.4 138 785.2 140 786.4 143 788 146 789.2 149 790 152 790.6 156 791.4 160 792 164 792.2 168 792.4 172 792 176 791.6 180 791.4 184 791.2 188 790.4 192 789 196 787.2 200 785 204 782.4 208 779.6 212 777.6 216 776 220 775 224 774.4 228 774 232 773.6 236 772.8 240 772 243 772.4 246.4 773" fill="none" stroke="#111" stroke-width="1.05" stroke-dasharray="3.2 2.0" stroke-linejoin="round"/>
<path d="M35.4 816.4 37 818.4 39 820 41 820.6 42 819.6 42.6 826 43.2 820 44 821 45.6 819.6 47 818 48.4 816 50 813 52 809 54 804 55.6 796 57 788 58.4 780 60 770 61.6 760 63 754 64.4 750 66 748 68 747 70 747.2 72 745.6 74 744 76 743.6 77.2 739.6 77.8 748 78.4 742.4 79.2 746.4 80 744 81.2 745.2 83 746.4 84.4 749 86 751.6 88 753.6 89.6 757 91.2 761 92.8 767 94.4 776 96 788 97.4 800 98.6 808 100 812 101.6 815 103.6 817 105.6 818.4 107.6 820 109.6 820.6 111.6 820 112.8 814.4 113.6 823 114.4 819 115.2 822.4 116.4 819.6 118 818.4 120 817 122 815 124 812 125.6 808 127.2 800 128.6 790 130 780 131.4 770 132.8 760 134 754 135.4 750 137 748 139 747.6 140 748 142 747 144 745.6 146 745 147.6 746.4 148.6 743 149.2 750 150 741 150.8 750.4 151.6 743 152.4 749.6 153.2 745 154 748 155.6 747.6 157.6 749 159.2 751.6 160.8 755 162.4 759 164 764 165.6 772 167 782 168.4 792 169.6 802 170.8 809 172 813 173.6 815.6 175.6 817.6 178 819 180 820 182 821 184 821.6 185.2 818 185.8 826.4 186.6 817 187.4 823 188.2 818.4 189.2 821 190.4 819 192 818 194 816 196 813.6 198 810 199.6 806 201.2 800 202.8 792 204.4 782 206 772 207.6 762 209 755 210.4 751 212 748.4 214 747.6 216 747.2 218.4 746 220.4 744.4 222 743 223.2 738 223.8 748 224.6 741 225.4 749 226.2 743 227 748 228 745.6 229.6 747 231.6 749 233.6 751.6 235.6 755 237.6 760 239.2 766 240.6 774 242 784 243.4 794 244.6 802 246.4 809" fill="none" stroke="#050505" stroke-width="1.08" stroke-linejoin="round"/>
</g>
<path d="M35 705H247.1" stroke="#a8a8a8" stroke-width="1.5" fill="none"/>
<path d="M246.7 705V859.7" stroke="#808080" stroke-width="0.9" fill="none"/>
<path d="M35 859.2H247.1" stroke="#909090" stroke-width="0.9" fill="none"/>
<path d="M35.5 705V859.7" stroke="#9c9c9c" stroke-width="0.9" fill="none"/>
<path d="M88.3 859.2v-3.2M141.1 859.2v-3.2M193.9 859.2v-3.2M35.5 859.2v-3.2M246.7 859.2v-3.2M61.9 859.2v-1.8M114.7 859.2v-1.8M167.5 859.2v-1.8M220.3 859.2v-1.8" stroke="#999" stroke-width="0.8" fill="none"/>
<text transform="translate(36.2 871.4) scale(0.945 1)" font-size="13.3" text-anchor="middle">1.3</text>
<text transform="translate(89 871.4) scale(0.945 1)" font-size="13.3" text-anchor="middle">1.35</text>
<text transform="translate(141.8 871.4) scale(0.945 1)" font-size="13.3" text-anchor="middle">1.4</text>
<text transform="translate(194.6 871.4) scale(0.945 1)" font-size="13.3" text-anchor="middle">1.45</text>
<text transform="translate(247.4 871.4) scale(0.945 1)" font-size="13.3" text-anchor="middle">1.5</text>
<text x="141.5" y="884.6" font-size="16.1" text-anchor="middle">Time (s)</text>
<path d="M35.5 729h3.2M35.5 755.7h3.2M35.5 782.3h3.2M35.5 809h3.2M35.5 835.6h3.2M35.5 715.7h1.8M35.5 742.3h1.8M35.5 769h1.8M35.5 795.6h1.8M35.5 822.3h1.8M35.5 849h1.8" stroke="#999" stroke-width="0.8" fill="none"/>
<text transform="translate(32.9 729) scale(0.945 1) rotate(-90)" font-size="13.3" text-anchor="middle">0.2</text>
<text transform="translate(32.9 755.7) scale(0.945 1) rotate(-90)" font-size="13.3" text-anchor="middle">0.1</text>
<text transform="translate(32.9 782.3) scale(0.945 1) rotate(-90)" font-size="13.3" text-anchor="middle">0</text>
<text transform="translate(32.9 808.2) scale(0.945 1) rotate(-90)" font-size="13.3" text-anchor="middle">-0.1</text>
<text transform="translate(32.9 834.8) scale(0.945 1) rotate(-90)" font-size="13.3" text-anchor="middle">-0.2</text>
<text transform="translate(17.5 782.1) rotate(-90)" font-size="16.0" text-anchor="middle">Net Momentum (N)</text>
<rect x="145.3" y="705" width="46.5" height="30.5" fill="#fff" stroke="#7a7a7a" stroke-width="0.8"/>
<path d="M147.5 710.5 155.7 710.5" fill="none" stroke="#4a4a4a" stroke-width="0.9" stroke-dasharray="0.9 1.9" stroke-linejoin="round"/>
<text x="159.8" y="712.5" font-size="7.5" class="lg">Re=68707</text>
<path d="M147.5 717.5 155.7 717.5" fill="none" stroke="#050505" stroke-width="1.08" stroke-linejoin="round"/>
<text x="159.8" y="719.7" font-size="7.5" class="lg">Re=54595</text>
<path d="M147.5 724.5 155.7 724.5" fill="none" stroke="#5a5a5a" stroke-width="0.75" stroke-linejoin="round"/>
<text x="159.8" y="726.9" font-size="7.5" class="lg">Re=41224</text>
<path d="M147.5 731.5 155.7 731.5" fill="none" stroke="#111" stroke-width="1.05" stroke-dasharray="3.2 2.0" stroke-linejoin="round"/>
<text x="159.8" y="734.1" font-size="7.5" class="lg">Re=27483</text>
<text x="145.7" y="915.8" font-size="15" text-anchor="middle" fill="#111">(<tspan font-weight="bold">g</tspan>)</text>
<path d="M322.8 705H535.2" stroke="#a8a8a8" stroke-width="1.5" fill="none"/>
<path d="M534.8 705V859.7" stroke="#a8a8a8" stroke-width="0.9" fill="none"/>
<path d="M322.8 859.2H535.2" stroke="#a8a8a8" stroke-width="0.9" fill="none"/>
<path d="M323.2 705V859.7" stroke="#a8a8a8" stroke-width="0.9" fill="none"/>
<path d="M341.5 859.2v-3.2M388.5 859.2v-3.2M435.6 859.2v-3.2M482.6 859.2v-3.2M529.6 859.2v-3.2M365 859.2v-1.8M412 859.2v-1.8M459.1 859.2v-1.8M506.1 859.2v-1.8" stroke="#999" stroke-width="0.8" fill="none"/>
<text transform="translate(341.9 871.4) scale(0.945 1)" font-size="13.3" text-anchor="middle">30 k</text>
<text transform="translate(388.9 871.4) scale(0.945 1)" font-size="13.3" text-anchor="middle">40 k</text>
<text transform="translate(436 871.4) scale(0.945 1)" font-size="13.3" text-anchor="middle">50 k</text>
<text transform="translate(483 871.4) scale(0.945 1)" font-size="13.3" text-anchor="middle">60 k</text>
<text transform="translate(530 871.4) scale(0.945 1)" font-size="13.3" text-anchor="middle">70 k</text>
<text x="428.6" y="884.6" font-size="16.1" text-anchor="middle">Reynolds number</text>
<path d="M323.2 729.3h3.2M323.2 755.9h3.2M323.2 782.5h3.2M323.2 809.2h3.2M323.2 835.8h3.2M323.2 716h1.8M323.2 742.6h1.8M323.2 769.2h1.8M323.2 795.8h1.8M323.2 822.5h1.8M323.2 849.1h1.8" stroke="#999" stroke-width="0.8" fill="none"/>
<text transform="translate(320.6 729.3) scale(0.945 1) rotate(-90)" font-size="13.3" text-anchor="middle">0.2</text>
<text transform="translate(320.6 755.9) scale(0.945 1) rotate(-90)" font-size="13.3" text-anchor="middle">0.1</text>
<text transform="translate(320.6 782.5) scale(0.945 1) rotate(-90)" font-size="13.3" text-anchor="middle">0</text>
<text transform="translate(320.6 808.4) scale(0.945 1) rotate(-90)" font-size="13.3" text-anchor="middle">-0.1</text>
<text transform="translate(320.6 835) scale(0.945 1) rotate(-90)" font-size="13.3" text-anchor="middle">-0.2</text>
<text transform="translate(306.8 782.1) rotate(-90)" font-size="16.0" text-anchor="middle">Net momentum (N)</text>
<path d="M329.7 771.3V793.4M327.9 771.3h3.6M327.9 793.4h3.6" stroke="#555" stroke-width="0.75" fill="none"/>
<path d="M394.7 757V808.3M392.9 757h3.6M392.9 808.3h3.6" stroke="#777" stroke-width="0.75" fill="none"/>
<path d="M457.7 737.6V826.4M455.9 737.6h3.6M455.9 826.4h3.6" stroke="#b5b5b5" stroke-width="0.75" fill="none"/>
<path d="M523.6 709.4V855.3M521.8 709.4h3.6M521.8 855.3h3.6" stroke="#4a4a4a" stroke-width="0.75" fill="none"/>
<path d="M329.7 782.3 394.7 782.3 457.7 782.3 523.6 782.3" fill="none" stroke="#222" stroke-width="1.1" stroke-linejoin="round"/>
<rect x="328.2" y="780.8" width="3" height="3" rx="0.6" fill="#000"/>
<rect x="393.2" y="780.8" width="3" height="3" rx="0.6" fill="#000"/>
<rect x="456.2" y="780.8" width="3" height="3" rx="0.6" fill="#000"/>
<rect x="522.1" y="780.8" width="3" height="3" rx="0.6" fill="#000"/>
<text x="433.5" y="915.8" font-size="15" text-anchor="middle" fill="#111">(<tspan font-weight="bold">h</tspan>)</text>
</svg>
</body></html>
